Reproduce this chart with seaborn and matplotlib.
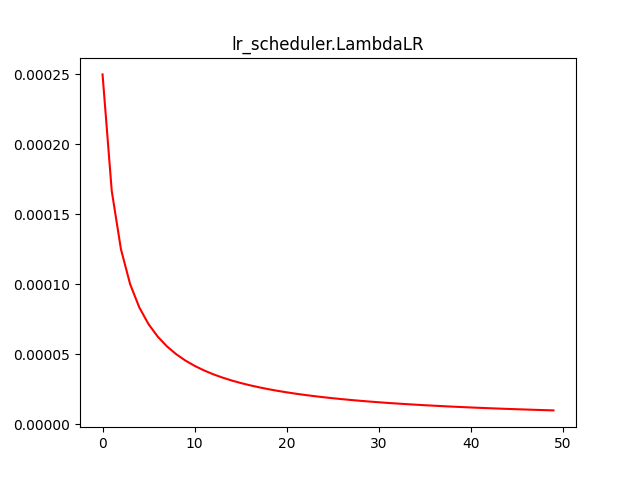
import matplotlib
matplotlib.use("Agg")
import matplotlib.pyplot as plt
import seaborn as sns
import pandas as pd

epochs = list(range(50))
lr_values = [
    2.5e-4, 1.6667e-4, 1.25e-4, 1.0e-4, 8.333e-5, 7.143e-5, 6.25e-5, 5.556e-5, 5.0e-5, 4.545e-5,
    4.167e-5, 3.846e-5, 3.571e-5, 3.333e-5, 3.125e-5, 2.941e-5, 2.778e-5, 2.632e-5, 2.5e-5, 2.381e-5,
    2.273e-5, 2.174e-5, 2.083e-5, 2.0e-5, 1.923e-5, 1.852e-5, 1.786e-5, 1.724e-5, 1.667e-5, 1.613e-5,
    1.5625e-5, 1.515e-5, 1.471e-5, 1.429e-5, 1.389e-5, 1.351e-5, 1.316e-5, 1.282e-5, 1.25e-5, 1.220e-5,
    1.190e-5, 1.163e-5, 1.136e-5, 1.111e-5, 1.087e-5, 1.064e-5, 1.042e-5, 1.020e-5, 1.0e-5, 9.80e-6,
]
title = "lr_scheduler.LambdaLR"

df = pd.DataFrame({"epoch": epochs, "lr": lr_values})

fig, ax = plt.subplots(figsize=(6.4, 4.8), dpi=100)
sns.lineplot(data=df, x="epoch", y="lr", color="red", ax=ax)
ax.set_title(title)
ax.set_xlabel("")
ax.set_ylabel("")
fig.savefig("out.png", dpi=100)
